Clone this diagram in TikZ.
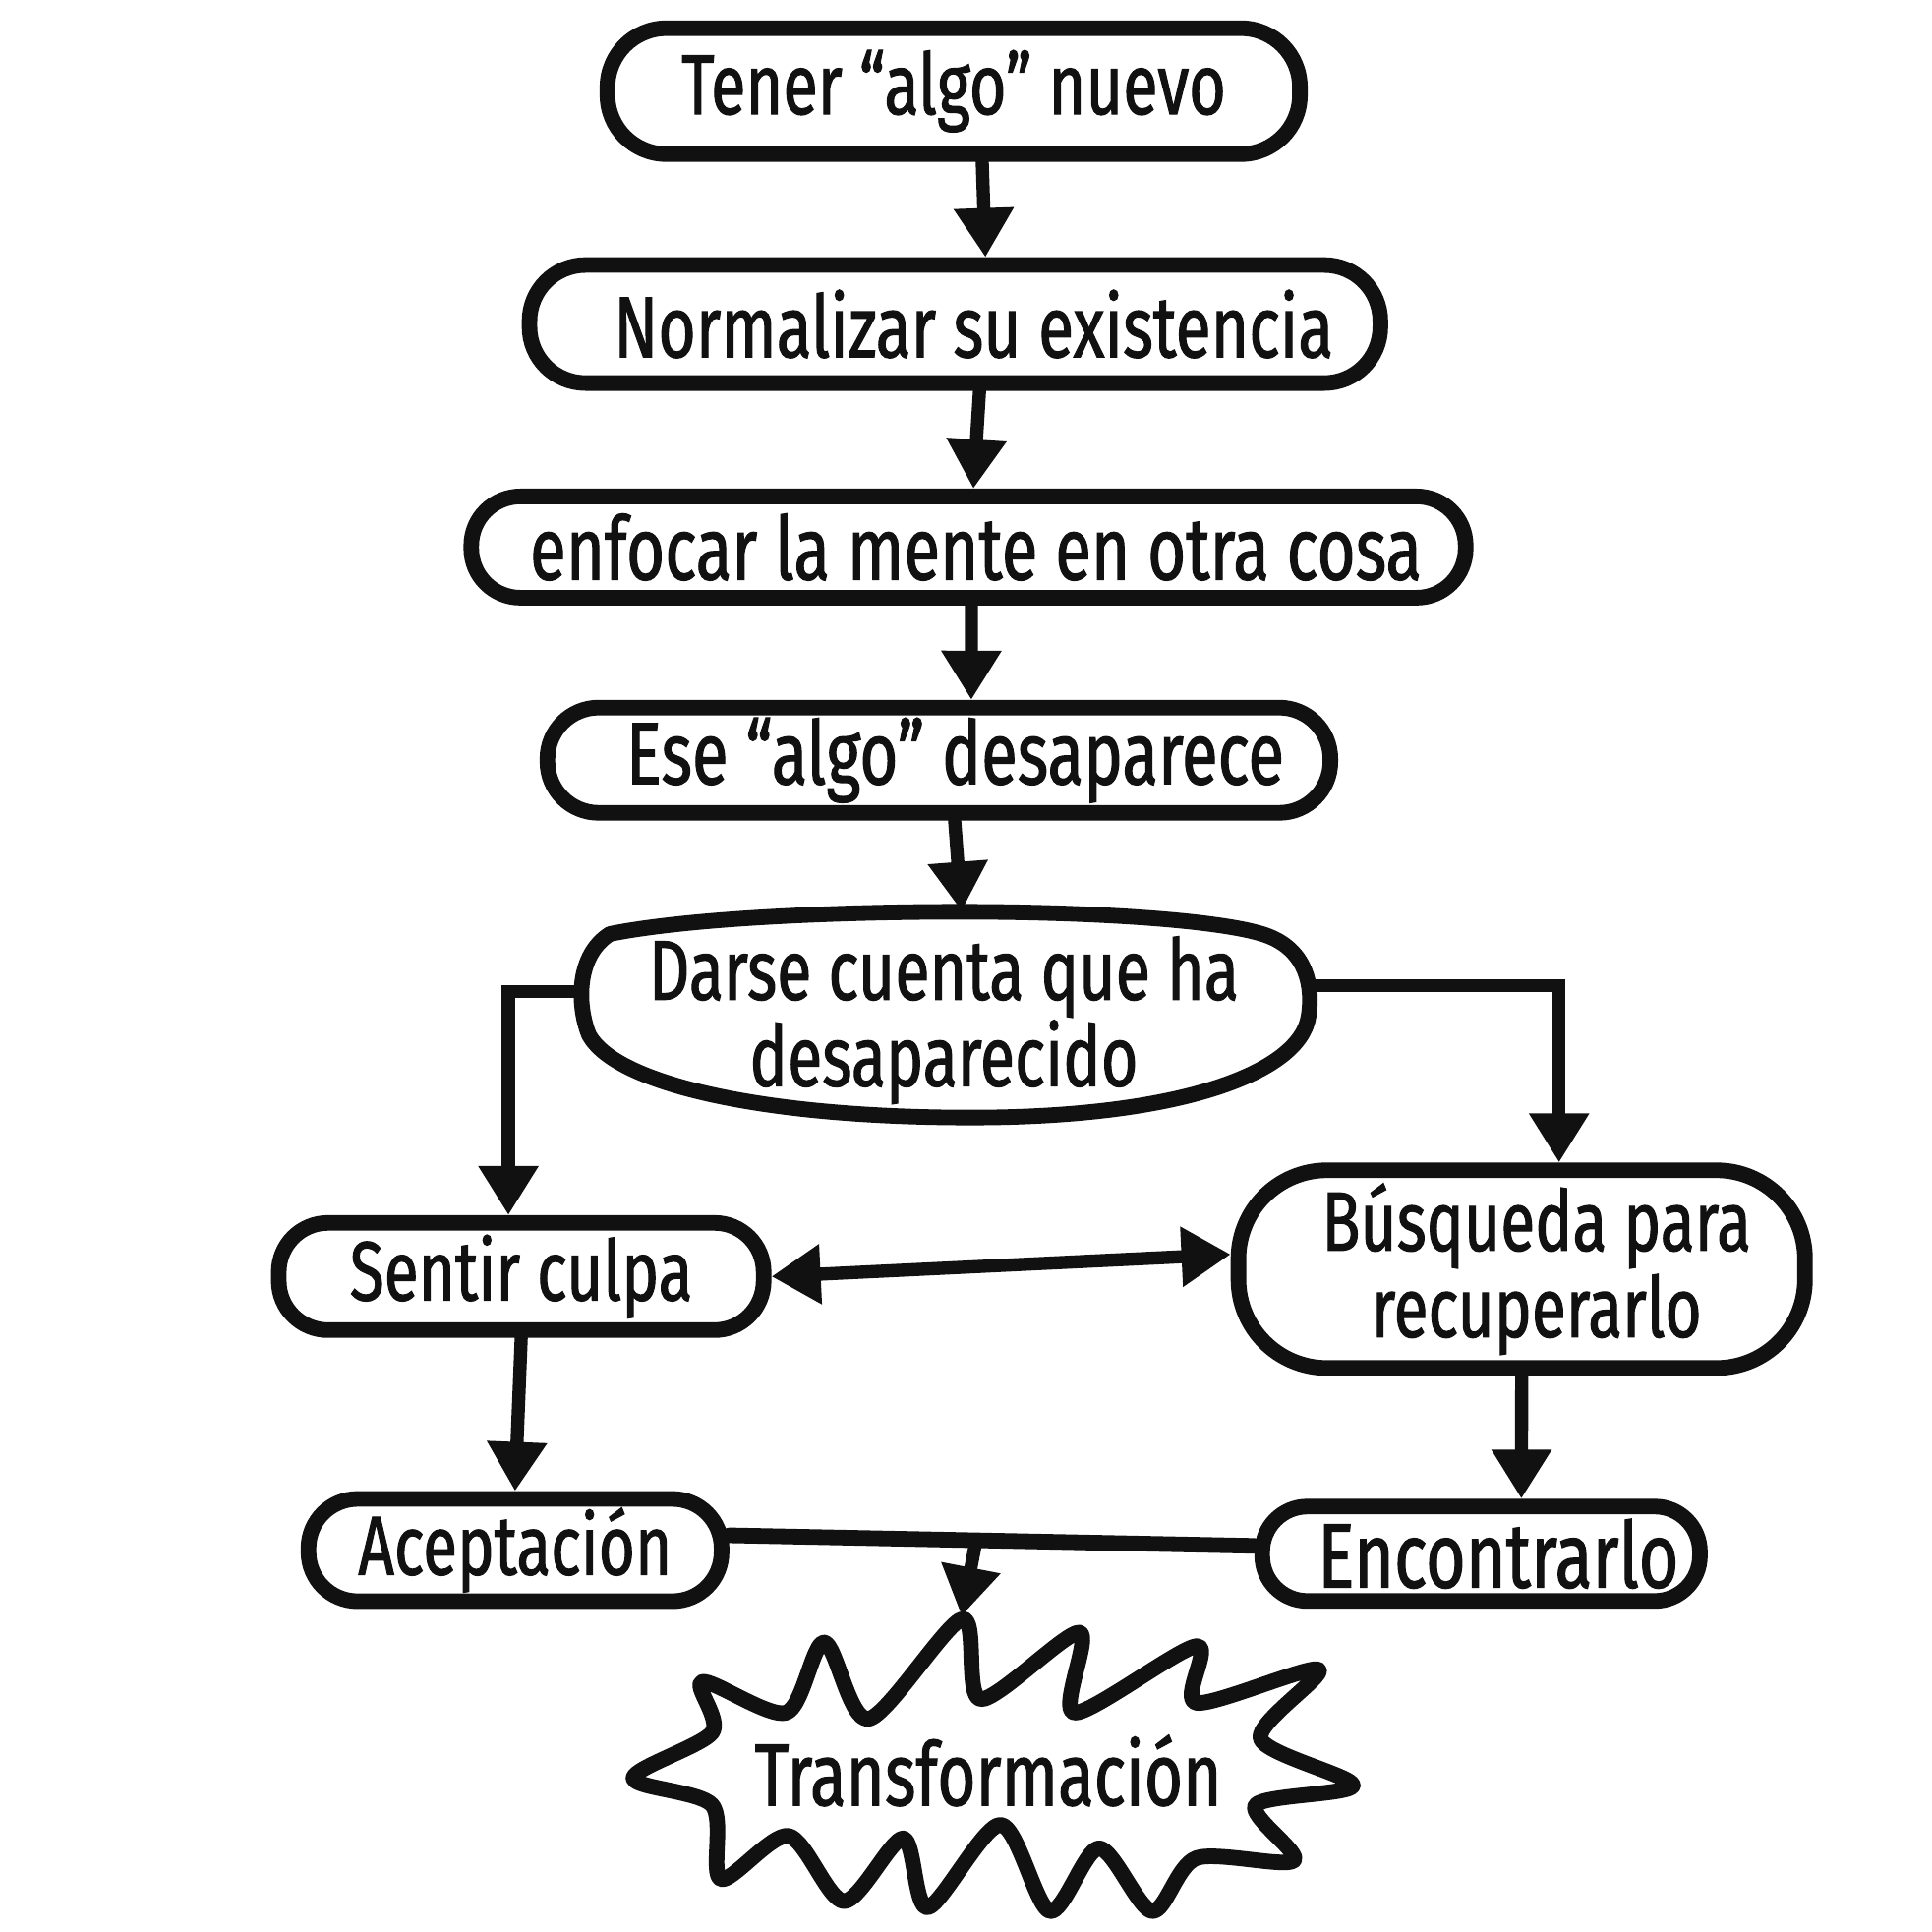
\documentclass[tikz,border=0pt]{standalone}
\usepackage{fontspec}
\setmainfont{Fira Sans}[FakeStretch=0.75, FakeBold=1.2]
\usetikzlibrary{arrows.meta,calc}
\definecolor{ink}{HTML}{111111}
\newcommand\myfs[1]{\fontsize{#1}{#1}\selectfont}
\newcommand\mytwo[1]{\fontsize{#1}{25pt}\selectfont\lineskiplimit=-30pt\relax}
\begin{document}
\begin{tikzpicture}[x=0.012532cm,y=-0.012532cm,
  box/.style={draw=ink, line width=4.5pt, rounded corners=#1, inner sep=0pt, align=center, text=ink},
  shp/.style={draw=ink, line width=4.5pt, line join=round},
  conn/.style={draw=ink, line width=3.8pt, line cap=round},
  arr/.style={conn, -{Triangle[length=0.5cm,width=0.58cm]}},
  arrtwo/.style={conn, {Triangle[length=0.5cm,width=0.58cm]}-{Triangle[length=0.5cm,width=0.58cm]}},
  lbl/.style={inner sep=0pt, align=center, text=ink}
]
\fill[white] (0,0) rectangle (1568,1568);
\useasboundingbox (0,0) rectangle (1568,1568);

% nodes
\node[box=0.6cm, minimum width=7.04cm, minimum height=1.28cm, font=\myfs{24.6}] (n1) at (774,74) {Tener “algo” nuevo};
\node[box=0.57cm, minimum width=8.65cm, minimum height=1.20cm, font=\myfs{25}] (n2) at (775,263) {\hspace*{0.38cm}Normalizar su existencia};
\node[box=0.5cm, minimum width=10.11cm, minimum height=1.03cm, font=\myfs{25.5}] (n3) at (786,444) {\hspace*{0.15cm}enfocar la mente en otra cosa};
\node[box=0.52cm, minimum width=7.96cm, minimum height=1.07cm, font=\myfs{25.5}] (n4) at (762,617) {\hspace*{0.33cm}Ese “algo” desaparece};

% blob for node 5
\draw[shp] (779,740) .. controls (900,740) and (1000,748) .. (1030,760)
  .. controls (1060,772) and (1066,800) .. (1062,825)
  .. controls (1055,870) and (960,907) .. (788,907)
  .. controls (620,907) and (500,880) .. (478,840)
  .. controls (468,815) and (468,775) .. (495,758)
  .. controls (560,745) and (680,740) .. (779,740) -- cycle;
\node[lbl, minimum width=7.39cm, minimum height=2.206cm, font=\mytwo{24.5}] (n5) at (766,828) {Darse cuenta que ha\\desaparecido};

\node[box=0.5cm, minimum width=4.93cm, minimum height=1.09cm, font=\myfs{24.3}] (n6) at (423,1036) {Sentir culpa};
\node[box=0.9cm, minimum width=5.76cm, minimum height=2.01cm, font=\mytwo{24.3}] (n7) at (1235,1030) {\hspace*{0.3cm}Búsqueda para\\\hspace*{0.3cm}recuperarlo};
\node[box=0.5cm, minimum width=4.20cm, minimum height=1.04cm, font=\myfs{24.2}] (n8) at (418,1258) {Aceptación};
\node[box=0.46cm, minimum width=4.45cm, minimum height=0.96cm, font=\myfs{26.5}] (n9) at (1202,1261) {\hspace*{0.35cm}Encontrarlo};

% starburst
\draw[shp] plot[smooth cycle, tension=0.5] coordinates {(514,1443) (578,1406) (570,1365) (638,1390) (669,1333) (705,1395) (781,1314) (796,1379) (876,1325) (872,1390) (971,1336) (971,1382) (1070,1355) (1023,1411) (1098,1449) (1019,1465) (1050,1510) (971,1508) (935,1551) (892,1500) (852,1551) (812,1481) (753,1548) (733,1492) (685,1543) (640,1490) (585,1525) (578,1465)};
\node[lbl, minimum height=3.13cm, font=\myfs{25.5}] (n10) at (802,1437) {Transformación};

% connectors
\draw[arr] ([xshift=0.29cm]n1.south) -- ([xshift=0.31cm]n2.north);
\draw[arr] ([xshift=0.25cm]n2.south) -- ([xshift=0.05cm]n3.north);
\draw[arr] ([xshift=0.03cm]n3.south) -- ([xshift=0.33cm]n4.north);
\draw[arr] ([xshift=0.16cm]n4.south) -- ([xshift=0.18cm]n5.north);
\draw[arr] ([yshift=0.29cm]n5.west) -| ([xshift=-0.13cm]n6.north);
\draw[arr] ([yshift=0.35cm]n5.east) -| ([xshift=0.38cm]n7.north);
\draw[arrtwo] (n6.east) -- ([yshift=0.15cm]n7.west);
\draw[arr] (n6.south) -- (n8.north);
\draw[arr] (n7.south) -- ([xshift=0.41cm]n9.north);
\draw[conn, line width=4.5pt] ([yshift=0.15cm]n8.east) -- coordinate[pos=0.47] (jn) ([yshift=0.08cm]n9.west);
\draw[arr] (jn) -- ([xshift=-0.27cm]n10.north);
\end{tikzpicture}
\end{document}
